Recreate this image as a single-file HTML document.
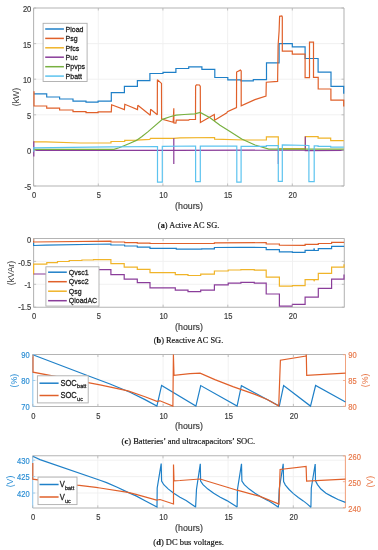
<!DOCTYPE html>
<html><head><meta charset="utf-8"><title>Figure</title>
<style>
html,body{margin:0;padding:0;background:#fff;}
body{width:378px;height:550px;overflow:hidden;}
svg{display:block;filter:blur(0.4px);}
</style></head>
<body>
<svg width="378" height="550" viewBox="0 0 378 550">
<rect width="378" height="550" fill="#fff"/>
<line x1="98.3" y1="8.0" x2="98.3" y2="186.0" stroke="#efefef" stroke-width="0.9"/>
<line x1="162.9" y1="8.0" x2="162.9" y2="186.0" stroke="#efefef" stroke-width="0.9"/>
<line x1="227.6" y1="8.0" x2="227.6" y2="186.0" stroke="#efefef" stroke-width="0.9"/>
<line x1="292.3" y1="8.0" x2="292.3" y2="186.0" stroke="#efefef" stroke-width="0.9"/>
<line x1="33.6" y1="43.6" x2="344.0" y2="43.6" stroke="#efefef" stroke-width="0.9"/>
<line x1="33.6" y1="79.2" x2="344.0" y2="79.2" stroke="#efefef" stroke-width="0.9"/>
<line x1="33.6" y1="114.8" x2="344.0" y2="114.8" stroke="#efefef" stroke-width="0.9"/>
<line x1="33.6" y1="150.4" x2="344.0" y2="150.4" stroke="#efefef" stroke-width="0.9"/>
<line x1="33.6" y1="8.0" x2="344.0" y2="8.0" stroke="#b4b4b4" stroke-width="1.05"/>
<line x1="33.6" y1="186.0" x2="344.0" y2="186.0" stroke="#b4b4b4" stroke-width="1.05"/>
<line x1="33.6" y1="8.0" x2="33.6" y2="186.0" stroke="#b4b4b4" stroke-width="1.05"/>
<line x1="344.0" y1="8.0" x2="344.0" y2="186.0" stroke="#b4b4b4" stroke-width="1.05"/>
<polyline points="34.0,93.9 46.7,93.9 46.7,97.0 59.6,97.0 59.6,99.0 73.0,99.0 73.0,101.2 86.0,101.2 86.0,102.2 98.1,102.2 98.1,101.1 111.3,101.1 111.3,92.7 124.4,92.7 124.4,86.3 137.4,86.3 137.4,80.7 149.9,80.7 149.9,73.5 163.0,73.5 163.0,72.3 175.9,72.3 175.9,68.5 188.7,68.5 188.7,66.9 201.9,66.9 201.9,69.3 214.8,69.3 214.8,77.5 227.8,77.5 227.8,79.9 241.0,79.9 241.0,80.8 253.3,80.8 253.3,79.6 266.5,79.6 266.5,62.8 279.1,62.8 279.1,43.7 292.3,43.7 292.3,46.9 305.1,46.9 305.1,58.5 318.1,58.5 318.1,72.2 331.0,72.2 331.0,86.3 343.7,86.3 343.7,93.8" fill="none" stroke="#1f80c8" stroke-width="1.2" stroke-linejoin="miter" stroke-miterlimit="2" />
<polyline points="34.0,91.2 34.0,106.0 46.7,106.0 46.7,108.2 59.6,108.1 59.6,110.0 73.0,110.0 73.0,111.7 86.0,111.7 86.0,112.6 98.1,112.6 98.1,111.8 111.3,111.8 111.6,104.8 124.4,109.6 124.8,104.3 137.5,109.6 137.8,105.2 150.3,115.2 150.6,109.3 157.3,114.7 157.4,79.7 161.5,83.4 161.6,119.0 173.2,122.3 173.8,108.2 173.9,123.0 175.9,123.2 176.3,120.2 188.8,120.2 189.3,119.5 195.5,119.5 195.6,86.0 196.5,84.8 199.5,85.0 200.3,86.5 200.4,122.4 214.3,114.6 214.6,120.2 226.9,112.7 227.4,111.8 236.5,107.5 236.6,72.0 240.4,70.1 241.2,71.0 241.2,105.8 254.9,99.6 266.0,96.1 266.3,82.2 277.6,81.4 278.1,45.5 279.1,31.0 279.6,16.3 281.8,16.0 282.3,17.0 282.3,51.1 292.3,51.1 292.3,54.2 305.1,54.2 305.1,77.6 309.5,77.6 309.5,42.2 313.5,42.2 313.5,77.4 318.2,77.4 318.2,89.0 330.9,89.0 330.9,100.2 343.7,100.2 343.7,106.5" fill="none" stroke="#e0602a" stroke-width="1.2" stroke-linejoin="miter" stroke-miterlimit="2" />
<polyline points="33.6,141.8 46.0,141.9 80.0,143.0 111.0,143.0 111.0,141.5 124.7,141.5 124.7,140.3 136.4,140.2 149.8,139.3 150.5,138.4 173.7,138.3 180.0,137.9 214.6,137.5 214.6,139.2 245.0,140.0 266.4,140.0 266.4,136.9 278.3,136.9 278.3,148.6 305.3,148.6 305.3,136.6 318.1,136.6 318.1,138.2 330.7,138.2 330.7,140.6 343.8,140.6" fill="none" stroke="#f0b429" stroke-width="1.2" stroke-linejoin="miter" stroke-miterlimit="2" />
<polyline points="33.8,141.2 33.8,156.5 33.8,150.3 173.8,150.3 173.8,138.3 173.8,164.0 173.8,150.3 278.3,150.2 278.3,164.0 278.3,150.2 305.3,150.2 305.3,136.6 305.3,150.6 343.8,150.3" fill="none" stroke="#8a3d9a" stroke-width="1.2" stroke-linejoin="miter" stroke-miterlimit="2" />
<polyline points="33.6,149.3 114.0,149.4 119.0,147.8 124.0,145.7 130.0,143.2 136.4,140.4 142.0,136.5 148.1,131.6 162.4,119.4 170.0,116.7 176.0,115.1 184.0,114.5 194.8,113.8 200.2,112.4 210.0,117.8 220.0,125.2 230.0,131.5 241.7,139.0 255.0,145.0 268.8,149.1 343.8,149.2" fill="none" stroke="#78b040" stroke-width="1.2" stroke-linejoin="miter" stroke-miterlimit="2" />
<polyline points="33.8,146.9 33.8,151.7 33.8,147.8 110.0,146.9 157.5,146.5 157.5,182.1 162.3,182.1 162.3,146.3 195.6,146.0 195.6,181.6 200.3,181.6 200.3,146.2 236.8,146.2 236.8,182.1 241.1,182.1 241.1,146.3 266.4,146.4 266.4,145.6 278.3,145.6 278.3,181.3 282.3,181.3 282.3,144.9 308.9,145.5 308.9,181.6 314.2,181.6 314.2,145.9 318.1,145.9 318.1,146.3 330.7,146.3 330.7,147.2 343.8,147.2" fill="none" stroke="#5cc3ef" stroke-width="1.2" stroke-linejoin="miter" stroke-miterlimit="2" />
<line x1="33.6" y1="8.0" x2="36.1" y2="8.0" stroke="#b4b4b4" stroke-width="0.8"/>
<line x1="344.0" y1="8.0" x2="341.5" y2="8.0" stroke="#b4b4b4" stroke-width="0.8"/>
<text transform="translate(31.3 11.9) scale(0.92 1)" font-family="Liberation Sans" font-size="8.2" fill="#3c3c3c" stroke="#3c3c3c" stroke-width="0.18" text-anchor="end" >20</text>
<line x1="33.6" y1="43.6" x2="36.1" y2="43.6" stroke="#b4b4b4" stroke-width="0.8"/>
<line x1="344.0" y1="43.6" x2="341.5" y2="43.6" stroke="#b4b4b4" stroke-width="0.8"/>
<text transform="translate(31.3 47.5) scale(0.92 1)" font-family="Liberation Sans" font-size="8.2" fill="#3c3c3c" stroke="#3c3c3c" stroke-width="0.18" text-anchor="end" >15</text>
<line x1="33.6" y1="79.2" x2="36.1" y2="79.2" stroke="#b4b4b4" stroke-width="0.8"/>
<line x1="344.0" y1="79.2" x2="341.5" y2="79.2" stroke="#b4b4b4" stroke-width="0.8"/>
<text transform="translate(31.3 83.1) scale(0.92 1)" font-family="Liberation Sans" font-size="8.2" fill="#3c3c3c" stroke="#3c3c3c" stroke-width="0.18" text-anchor="end" >10</text>
<line x1="33.6" y1="114.8" x2="36.1" y2="114.8" stroke="#b4b4b4" stroke-width="0.8"/>
<line x1="344.0" y1="114.8" x2="341.5" y2="114.8" stroke="#b4b4b4" stroke-width="0.8"/>
<text transform="translate(31.3 118.7) scale(0.92 1)" font-family="Liberation Sans" font-size="8.2" fill="#3c3c3c" stroke="#3c3c3c" stroke-width="0.18" text-anchor="end" >5</text>
<line x1="33.6" y1="150.4" x2="36.1" y2="150.4" stroke="#b4b4b4" stroke-width="0.8"/>
<line x1="344.0" y1="150.4" x2="341.5" y2="150.4" stroke="#b4b4b4" stroke-width="0.8"/>
<text transform="translate(31.3 154.3) scale(0.92 1)" font-family="Liberation Sans" font-size="8.2" fill="#3c3c3c" stroke="#3c3c3c" stroke-width="0.18" text-anchor="end" >0</text>
<line x1="33.6" y1="186.0" x2="36.1" y2="186.0" stroke="#b4b4b4" stroke-width="0.8"/>
<line x1="344.0" y1="186.0" x2="341.5" y2="186.0" stroke="#b4b4b4" stroke-width="0.8"/>
<text transform="translate(31.3 189.9) scale(0.92 1)" font-family="Liberation Sans" font-size="8.2" fill="#3c3c3c" stroke="#3c3c3c" stroke-width="0.18" text-anchor="end" >-5</text>
<line x1="33.6" y1="186.0" x2="33.6" y2="183.5" stroke="#b4b4b4" stroke-width="0.8"/>
<line x1="33.6" y1="8.0" x2="33.6" y2="10.5" stroke="#b4b4b4" stroke-width="0.8"/>
<text transform="translate(34.1 198.15) scale(0.92 1)" font-family="Liberation Sans" font-size="8.2" fill="#3c3c3c" stroke="#3c3c3c" stroke-width="0.18" text-anchor="middle" >0</text>
<line x1="98.3" y1="186.0" x2="98.3" y2="183.5" stroke="#b4b4b4" stroke-width="0.8"/>
<line x1="98.3" y1="8.0" x2="98.3" y2="10.5" stroke="#b4b4b4" stroke-width="0.8"/>
<text transform="translate(98.8 198.15) scale(0.92 1)" font-family="Liberation Sans" font-size="8.2" fill="#3c3c3c" stroke="#3c3c3c" stroke-width="0.18" text-anchor="middle" >5</text>
<line x1="162.9" y1="186.0" x2="162.9" y2="183.5" stroke="#b4b4b4" stroke-width="0.8"/>
<line x1="162.9" y1="8.0" x2="162.9" y2="10.5" stroke="#b4b4b4" stroke-width="0.8"/>
<text transform="translate(163.4 198.15) scale(0.92 1)" font-family="Liberation Sans" font-size="8.2" fill="#3c3c3c" stroke="#3c3c3c" stroke-width="0.18" text-anchor="middle" >10</text>
<line x1="227.6" y1="186.0" x2="227.6" y2="183.5" stroke="#b4b4b4" stroke-width="0.8"/>
<line x1="227.6" y1="8.0" x2="227.6" y2="10.5" stroke="#b4b4b4" stroke-width="0.8"/>
<text transform="translate(228.1 198.15) scale(0.92 1)" font-family="Liberation Sans" font-size="8.2" fill="#3c3c3c" stroke="#3c3c3c" stroke-width="0.18" text-anchor="middle" >15</text>
<line x1="292.3" y1="186.0" x2="292.3" y2="183.5" stroke="#b4b4b4" stroke-width="0.8"/>
<line x1="292.3" y1="8.0" x2="292.3" y2="10.5" stroke="#b4b4b4" stroke-width="0.8"/>
<text transform="translate(292.8 198.15) scale(0.92 1)" font-family="Liberation Sans" font-size="8.2" fill="#3c3c3c" stroke="#3c3c3c" stroke-width="0.18" text-anchor="middle" >20</text>
<text transform="translate(189 208.9) scale(1.0 1)" font-family="Liberation Sans" font-size="8.8" fill="#3c3c3c" stroke="#3c3c3c" stroke-width="0.18" text-anchor="middle" >(hours)</text>
<text transform="translate(16.2 97) rotate(-90) translate(0 3.17)" font-family="Liberation Sans" font-size="8.8" fill="#3c3c3c" text-anchor="middle">(kW)</text>
<rect x="43.1" y="23.3" width="43.99999999999999" height="58.2" fill="#fff" stroke="#adadad" stroke-width="0.9"/>
<line x1="45.2" y1="29.0" x2="63.9" y2="29.0" stroke="#1f80c8" stroke-width="1.5"/>
<text transform="translate(65.6 31.7) scale(0.92 1)" font-family="Liberation Sans" font-size="7.6" fill="#1a1a1a" stroke="#1a1a1a" stroke-width="0.25">Pload</text>
<line x1="45.2" y1="38.4" x2="63.9" y2="38.4" stroke="#e0602a" stroke-width="1.5"/>
<text transform="translate(65.6 41.1) scale(0.92 1)" font-family="Liberation Sans" font-size="7.6" fill="#1a1a1a" stroke="#1a1a1a" stroke-width="0.25">Psg</text>
<line x1="45.2" y1="47.8" x2="63.9" y2="47.8" stroke="#f0b429" stroke-width="1.5"/>
<text transform="translate(65.6 50.5) scale(0.92 1)" font-family="Liberation Sans" font-size="7.6" fill="#1a1a1a" stroke="#1a1a1a" stroke-width="0.25">Pfcs</text>
<line x1="45.2" y1="57.2" x2="63.9" y2="57.2" stroke="#8a3d9a" stroke-width="1.5"/>
<text transform="translate(65.6 59.900000000000006) scale(0.92 1)" font-family="Liberation Sans" font-size="7.6" fill="#1a1a1a" stroke="#1a1a1a" stroke-width="0.25">Puc</text>
<line x1="45.2" y1="66.7" x2="63.9" y2="66.7" stroke="#78b040" stroke-width="1.5"/>
<text transform="translate(65.6 69.4) scale(0.92 1)" font-family="Liberation Sans" font-size="7.6" fill="#1a1a1a" stroke="#1a1a1a" stroke-width="0.25">Ppvps</text>
<line x1="45.2" y1="76.1" x2="63.9" y2="76.1" stroke="#5cc3ef" stroke-width="1.5"/>
<text transform="translate(65.6 78.8) scale(0.92 1)" font-family="Liberation Sans" font-size="7.6" fill="#1a1a1a" stroke="#1a1a1a" stroke-width="0.25">Pbatt</text>
<text x="188.6" y="227.8" textLength="61.5" lengthAdjust="spacingAndGlyphs" font-family="Liberation Serif" font-size="8.5" fill="#111" stroke="#111" stroke-width="0.15" text-anchor="middle">(<tspan font-weight="bold">a</tspan>) Active AC SG.</text>
<line x1="98.3" y1="238.5" x2="98.3" y2="307.2" stroke="#efefef" stroke-width="0.9"/>
<line x1="163.1" y1="238.5" x2="163.1" y2="307.2" stroke="#efefef" stroke-width="0.9"/>
<line x1="227.8" y1="238.5" x2="227.8" y2="307.2" stroke="#efefef" stroke-width="0.9"/>
<line x1="292.5" y1="238.5" x2="292.5" y2="307.2" stroke="#efefef" stroke-width="0.9"/>
<line x1="33.6" y1="261.4" x2="344.3" y2="261.4" stroke="#efefef" stroke-width="0.9"/>
<line x1="33.6" y1="284.3" x2="344.3" y2="284.3" stroke="#efefef" stroke-width="0.9"/>
<line x1="33.6" y1="238.5" x2="344.3" y2="238.5" stroke="#b4b4b4" stroke-width="1.05"/>
<line x1="33.6" y1="307.2" x2="344.3" y2="307.2" stroke="#b4b4b4" stroke-width="1.05"/>
<line x1="33.6" y1="238.5" x2="33.6" y2="307.2" stroke="#b4b4b4" stroke-width="1.05"/>
<line x1="344.3" y1="238.5" x2="344.3" y2="307.2" stroke="#b4b4b4" stroke-width="1.05"/>
<polyline points="33.6,242.5 33.6,245.5 45.9,245.2 110.9,244.0 110.9,245.0 124.6,245.0 124.6,246.0 137.3,246.0 137.3,247.1 150.0,247.1 150.0,248.4 176.3,248.4 176.3,249.2 201.7,249.2 201.7,248.8 214.4,248.8 214.4,247.5 240.0,247.4 266.2,247.5 266.2,249.6 279.4,249.6 279.4,251.9 292.4,251.9 292.4,252.3 305.1,252.3 305.1,250.3 313.9,250.3 314.1,248.4 314.5,250.4 318.3,250.5 318.3,248.6 331.6,248.6 331.6,246.4 344.1,246.4" fill="none" stroke="#1f80c8" stroke-width="1.2" stroke-linejoin="miter" stroke-miterlimit="2" />
<polyline points="33.6,238.8 33.6,242.0 110.9,241.2 110.9,242.0 124.6,242.0 124.6,242.7 137.3,242.7 137.3,243.1 150.0,243.1 150.0,243.5 214.4,243.5 214.4,242.8 266.2,242.7 266.2,244.0 279.4,244.0 279.4,245.1 305.1,245.3 305.1,244.3 318.3,244.3 318.3,243.5 331.6,243.5 331.6,242.3 344.1,242.3" fill="none" stroke="#e0602a" stroke-width="1.2" stroke-linejoin="miter" stroke-miterlimit="2" />
<polyline points="33.6,274.4 33.6,264.1 46.8,264.1 46.8,262.6 57.5,262.6 57.5,261.5 69.2,261.5 69.2,260.5 81.9,260.5 81.9,260.0 93.5,260.0 93.5,259.6 110.9,259.6 110.9,263.6 124.2,263.6 124.2,267.2 137.3,267.2 137.3,269.3 150.0,269.3 150.0,272.7 175.3,272.7 175.3,274.6 188.0,274.6 188.0,275.5 200.7,275.5 200.7,274.2 214.4,274.2 214.4,271.0 228.2,271.0 228.2,270.0 240.9,270.0 240.9,269.7 254.3,269.7 254.3,270.2 266.2,270.2 266.2,277.2 279.4,277.2 279.4,286.1 292.4,286.1 292.4,285.6 305.1,285.6 305.1,279.7 313.9,279.7 314.1,281.3 314.5,279.7 318.3,279.7 318.3,273.4 331.6,273.4 331.6,267.2 344.0,267.2 344.0,264.3" fill="none" stroke="#f0b429" stroke-width="1.2" stroke-linejoin="miter" stroke-miterlimit="2" />
<polyline points="33.6,274.0 45.9,274.0 72.0,272.0 98.8,269.7 110.9,269.7 110.9,274.6 124.2,274.6 124.2,279.1 137.3,279.1 137.3,282.7 150.0,282.7 150.0,287.8 175.3,287.8 175.3,290.1 188.0,290.1 188.0,291.6 200.7,291.6 200.7,290.1 214.4,290.1 214.4,284.8 228.2,284.8 228.2,283.1 240.9,283.1 240.9,282.4 254.3,282.4 254.3,283.2 266.2,283.2 266.2,294.0 279.4,294.0 279.4,306.2 292.4,306.2 292.4,304.4 305.1,304.4 305.1,297.2 318.3,297.2 318.3,288.3 331.6,288.3 331.6,279.1 344.0,279.1 344.0,274.4" fill="none" stroke="#8a3d9a" stroke-width="1.2" stroke-linejoin="miter" stroke-miterlimit="2" />
<line x1="33.6" y1="238.5" x2="36.1" y2="238.5" stroke="#b4b4b4" stroke-width="0.8"/>
<line x1="344.3" y1="238.5" x2="341.8" y2="238.5" stroke="#b4b4b4" stroke-width="0.8"/>
<text transform="translate(31.3 242.6) scale(0.92 1)" font-family="Liberation Sans" font-size="8.2" fill="#3c3c3c" stroke="#3c3c3c" stroke-width="0.18" text-anchor="end" >0</text>
<line x1="33.6" y1="261.4" x2="36.1" y2="261.4" stroke="#b4b4b4" stroke-width="0.8"/>
<line x1="344.3" y1="261.4" x2="341.8" y2="261.4" stroke="#b4b4b4" stroke-width="0.8"/>
<text transform="translate(31.3 265.8) scale(0.92 1)" font-family="Liberation Sans" font-size="8.2" fill="#3c3c3c" stroke="#3c3c3c" stroke-width="0.18" text-anchor="end" >-0.5</text>
<line x1="33.6" y1="284.3" x2="36.1" y2="284.3" stroke="#b4b4b4" stroke-width="0.8"/>
<line x1="344.3" y1="284.3" x2="341.8" y2="284.3" stroke="#b4b4b4" stroke-width="0.8"/>
<text transform="translate(31.3 288.0) scale(0.92 1)" font-family="Liberation Sans" font-size="8.2" fill="#3c3c3c" stroke="#3c3c3c" stroke-width="0.18" text-anchor="end" >-1</text>
<line x1="33.6" y1="307.2" x2="36.1" y2="307.2" stroke="#b4b4b4" stroke-width="0.8"/>
<line x1="344.3" y1="307.2" x2="341.8" y2="307.2" stroke="#b4b4b4" stroke-width="0.8"/>
<text transform="translate(31.3 310.2) scale(0.92 1)" font-family="Liberation Sans" font-size="8.2" fill="#3c3c3c" stroke="#3c3c3c" stroke-width="0.18" text-anchor="end" >-1.5</text>
<line x1="33.6" y1="307.2" x2="33.6" y2="304.7" stroke="#b4b4b4" stroke-width="0.8"/>
<line x1="33.6" y1="238.5" x2="33.6" y2="241.0" stroke="#b4b4b4" stroke-width="0.8"/>
<text transform="translate(34.1 319.34999999999997) scale(0.92 1)" font-family="Liberation Sans" font-size="8.2" fill="#3c3c3c" stroke="#3c3c3c" stroke-width="0.18" text-anchor="middle" >0</text>
<line x1="98.3" y1="307.2" x2="98.3" y2="304.7" stroke="#b4b4b4" stroke-width="0.8"/>
<line x1="98.3" y1="238.5" x2="98.3" y2="241.0" stroke="#b4b4b4" stroke-width="0.8"/>
<text transform="translate(98.8 319.34999999999997) scale(0.92 1)" font-family="Liberation Sans" font-size="8.2" fill="#3c3c3c" stroke="#3c3c3c" stroke-width="0.18" text-anchor="middle" >5</text>
<line x1="163.1" y1="307.2" x2="163.1" y2="304.7" stroke="#b4b4b4" stroke-width="0.8"/>
<line x1="163.1" y1="238.5" x2="163.1" y2="241.0" stroke="#b4b4b4" stroke-width="0.8"/>
<text transform="translate(163.6 319.34999999999997) scale(0.92 1)" font-family="Liberation Sans" font-size="8.2" fill="#3c3c3c" stroke="#3c3c3c" stroke-width="0.18" text-anchor="middle" >10</text>
<line x1="227.8" y1="307.2" x2="227.8" y2="304.7" stroke="#b4b4b4" stroke-width="0.8"/>
<line x1="227.8" y1="238.5" x2="227.8" y2="241.0" stroke="#b4b4b4" stroke-width="0.8"/>
<text transform="translate(228.3 319.34999999999997) scale(0.92 1)" font-family="Liberation Sans" font-size="8.2" fill="#3c3c3c" stroke="#3c3c3c" stroke-width="0.18" text-anchor="middle" >15</text>
<line x1="292.5" y1="307.2" x2="292.5" y2="304.7" stroke="#b4b4b4" stroke-width="0.8"/>
<line x1="292.5" y1="238.5" x2="292.5" y2="241.0" stroke="#b4b4b4" stroke-width="0.8"/>
<text transform="translate(293.0 319.34999999999997) scale(0.92 1)" font-family="Liberation Sans" font-size="8.2" fill="#3c3c3c" stroke="#3c3c3c" stroke-width="0.18" text-anchor="middle" >20</text>
<text transform="translate(189 330.09999999999997) scale(1.0 1)" font-family="Liberation Sans" font-size="8.8" fill="#3c3c3c" stroke="#3c3c3c" stroke-width="0.18" text-anchor="middle" >(hours)</text>
<text transform="translate(11 273) rotate(-90) translate(0 3.17)" font-family="Liberation Sans" font-size="8.8" fill="#3c3c3c" text-anchor="middle">(kVAr)</text>
<rect x="45.9" y="266.8" width="53.1" height="39.30000000000001" fill="#fff" stroke="#adadad" stroke-width="0.9"/>
<line x1="48.1" y1="272.2" x2="66.8" y2="272.2" stroke="#1f80c8" stroke-width="1.5"/>
<text transform="translate(68.8 274.9) scale(0.92 1)" font-family="Liberation Sans" font-size="7.6" fill="#1a1a1a" stroke="#1a1a1a" stroke-width="0.25">Qvsc1</text>
<line x1="48.1" y1="281.7" x2="66.8" y2="281.7" stroke="#e0602a" stroke-width="1.5"/>
<text transform="translate(68.8 284.4) scale(0.92 1)" font-family="Liberation Sans" font-size="7.6" fill="#1a1a1a" stroke="#1a1a1a" stroke-width="0.25">Qvsc2</text>
<line x1="48.1" y1="291.2" x2="66.8" y2="291.2" stroke="#f0b429" stroke-width="1.5"/>
<text transform="translate(68.8 293.9) scale(0.92 1)" font-family="Liberation Sans" font-size="7.6" fill="#1a1a1a" stroke="#1a1a1a" stroke-width="0.25">Qsg</text>
<line x1="48.1" y1="300.7" x2="66.8" y2="300.7" stroke="#8a3d9a" stroke-width="1.5"/>
<text transform="translate(68.8 303.4) scale(0.92 1)" font-family="Liberation Sans" font-size="7.6" fill="#1a1a1a" stroke="#1a1a1a" stroke-width="0.25">QloadAC</text>
<text x="188.5" y="342.8" textLength="69.5" lengthAdjust="spacingAndGlyphs" font-family="Liberation Serif" font-size="8.5" fill="#111" stroke="#111" stroke-width="0.15" text-anchor="middle">(<tspan font-weight="bold">b</tspan>) Reactive AC SG.</text>
<line x1="97.9" y1="354.5" x2="97.9" y2="406.4" stroke="#efefef" stroke-width="0.9"/>
<line x1="163.1" y1="354.5" x2="163.1" y2="406.4" stroke="#efefef" stroke-width="0.9"/>
<line x1="228.2" y1="354.5" x2="228.2" y2="406.4" stroke="#efefef" stroke-width="0.9"/>
<line x1="293.4" y1="354.5" x2="293.4" y2="406.4" stroke="#efefef" stroke-width="0.9"/>
<line x1="32.8" y1="380.4" x2="345.5" y2="380.4" stroke="#efefef" stroke-width="0.9"/>
<line x1="32.8" y1="354.5" x2="345.5" y2="354.5" stroke="#b4b4b4" stroke-width="1.05"/>
<line x1="32.8" y1="406.4" x2="345.5" y2="406.4" stroke="#b4b4b4" stroke-width="1.05"/>
<line x1="32.8" y1="354.5" x2="32.8" y2="406.4" stroke="#8cc4ec" stroke-width="1.05"/>
<line x1="345.5" y1="354.5" x2="345.5" y2="406.4" stroke="#f1a27e" stroke-width="1.05"/>
<polyline points="32.8,354.7 88.0,375.7 110.0,384.0 130.0,392.2 145.0,399.6 156.9,406.1 161.6,385.4 195.9,406.1 200.7,385.6 237.1,406.1 241.4,385.6 279.3,406.1 283.6,385.6 310.5,406.1 315.6,385.5 345.5,402.0" fill="none" stroke="#1f80c8" stroke-width="1.2" stroke-linejoin="miter" stroke-miterlimit="2" />
<polyline points="33.0,354.7 33.0,372.2 88.0,382.7 100.0,384.8 128.0,390.9 145.0,396.7 156.9,401.3 159.9,400.8 172.9,406.1 173.4,354.5 174.0,375.3 190.0,373.6 200.1,373.1 214.9,379.6 232.9,386.6 255.0,394.4 267.7,399.7 278.7,406.1 280.4,360.2 306.0,356.0 306.3,354.6 306.7,375.4 345.5,373.1" fill="none" stroke="#e0602a" stroke-width="1.2" stroke-linejoin="miter" stroke-miterlimit="2" />
<line x1="32.8" y1="354.7" x2="35.3" y2="354.7" stroke="#8cc4ec" stroke-width="0.8"/>
<text transform="translate(29.6 358.2) scale(0.92 1)" font-family="Liberation Sans" font-size="8.2" fill="#2d8fd5" stroke="#2d8fd5" stroke-width="0.18" text-anchor="end" >90</text>
<line x1="32.8" y1="380.5" x2="35.3" y2="380.5" stroke="#8cc4ec" stroke-width="0.8"/>
<text transform="translate(29.6 384.0) scale(0.92 1)" font-family="Liberation Sans" font-size="8.2" fill="#2d8fd5" stroke="#2d8fd5" stroke-width="0.18" text-anchor="end" >80</text>
<line x1="32.8" y1="406.3" x2="35.3" y2="406.3" stroke="#8cc4ec" stroke-width="0.8"/>
<text transform="translate(29.6 409.8) scale(0.92 1)" font-family="Liberation Sans" font-size="8.2" fill="#2d8fd5" stroke="#2d8fd5" stroke-width="0.18" text-anchor="end" >70</text>
<line x1="345.5" y1="354.7" x2="343.0" y2="354.7" stroke="#f1a27e" stroke-width="0.8"/>
<text transform="translate(348.3 358.0) scale(0.92 1)" font-family="Liberation Sans" font-size="8.2" fill="#e8794a" stroke="#e8794a" stroke-width="0.18" text-anchor="start" >90</text>
<line x1="345.5" y1="380.5" x2="343.0" y2="380.5" stroke="#f1a27e" stroke-width="0.8"/>
<text transform="translate(348.3 383.9) scale(0.92 1)" font-family="Liberation Sans" font-size="8.2" fill="#e8794a" stroke="#e8794a" stroke-width="0.18" text-anchor="start" >85</text>
<line x1="345.5" y1="406.3" x2="343.0" y2="406.3" stroke="#f1a27e" stroke-width="0.8"/>
<text transform="translate(348.3 410.1) scale(0.92 1)" font-family="Liberation Sans" font-size="8.2" fill="#e8794a" stroke="#e8794a" stroke-width="0.18" text-anchor="start" >80</text>
<line x1="32.8" y1="406.4" x2="32.8" y2="403.9" stroke="#b4b4b4" stroke-width="0.8"/>
<line x1="32.8" y1="354.5" x2="32.8" y2="357.0" stroke="#b4b4b4" stroke-width="0.8"/>
<text transform="translate(33.3 418.54999999999995) scale(0.92 1)" font-family="Liberation Sans" font-size="8.2" fill="#3c3c3c" stroke="#3c3c3c" stroke-width="0.18" text-anchor="middle" >0</text>
<line x1="97.9" y1="406.4" x2="97.9" y2="403.9" stroke="#b4b4b4" stroke-width="0.8"/>
<line x1="97.9" y1="354.5" x2="97.9" y2="357.0" stroke="#b4b4b4" stroke-width="0.8"/>
<text transform="translate(98.4 418.54999999999995) scale(0.92 1)" font-family="Liberation Sans" font-size="8.2" fill="#3c3c3c" stroke="#3c3c3c" stroke-width="0.18" text-anchor="middle" >5</text>
<line x1="163.1" y1="406.4" x2="163.1" y2="403.9" stroke="#b4b4b4" stroke-width="0.8"/>
<line x1="163.1" y1="354.5" x2="163.1" y2="357.0" stroke="#b4b4b4" stroke-width="0.8"/>
<text transform="translate(163.6 418.54999999999995) scale(0.92 1)" font-family="Liberation Sans" font-size="8.2" fill="#3c3c3c" stroke="#3c3c3c" stroke-width="0.18" text-anchor="middle" >10</text>
<line x1="228.2" y1="406.4" x2="228.2" y2="403.9" stroke="#b4b4b4" stroke-width="0.8"/>
<line x1="228.2" y1="354.5" x2="228.2" y2="357.0" stroke="#b4b4b4" stroke-width="0.8"/>
<text transform="translate(228.7 418.54999999999995) scale(0.92 1)" font-family="Liberation Sans" font-size="8.2" fill="#3c3c3c" stroke="#3c3c3c" stroke-width="0.18" text-anchor="middle" >15</text>
<line x1="293.4" y1="406.4" x2="293.4" y2="403.9" stroke="#b4b4b4" stroke-width="0.8"/>
<line x1="293.4" y1="354.5" x2="293.4" y2="357.0" stroke="#b4b4b4" stroke-width="0.8"/>
<text transform="translate(293.9 418.54999999999995) scale(0.92 1)" font-family="Liberation Sans" font-size="8.2" fill="#3c3c3c" stroke="#3c3c3c" stroke-width="0.18" text-anchor="middle" >20</text>
<text transform="translate(189 429.29999999999995) scale(1.0 1)" font-family="Liberation Sans" font-size="8.8" fill="#3c3c3c" stroke="#3c3c3c" stroke-width="0.18" text-anchor="middle" >(hours)</text>
<text transform="translate(14 380.6) rotate(-90) translate(0 3.17)" font-family="Liberation Sans" font-size="8.8" fill="#2d8fd5" text-anchor="middle">(%)</text>
<text transform="translate(364.8 380.4) rotate(-90) translate(0 3.17)" font-family="Liberation Sans" font-size="8.8" fill="#e8794a" text-anchor="middle">(%)</text>
<rect x="37.4" y="375.8" width="50.8" height="27.1" fill="#fff" stroke="#adadad" stroke-width="0.9"/>
<line x1="39.5" y1="383.2" x2="58.6" y2="383.2" stroke="#1f80c8" stroke-width="1.5"/>
<line x1="39.5" y1="395.5" x2="58.6" y2="395.5" stroke="#e0602a" stroke-width="1.5"/>
<text transform="translate(60.5 385.6) scale(0.92 1)" font-family="Liberation Sans" font-size="8.2" fill="#1a1a1a" stroke="#1a1a1a" stroke-width="0.25">SOC<tspan font-size="6.0" dy="2.6" dx="0.3">batt</tspan></text>
<text transform="translate(60.5 398.2) scale(0.92 1)" font-family="Liberation Sans" font-size="8.2" fill="#1a1a1a" stroke="#1a1a1a" stroke-width="0.25">SOC<tspan font-size="6.0" dy="2.6" dx="0.3">uc</tspan></text>
<text x="188.3" y="444.0" textLength="133.5" lengthAdjust="spacingAndGlyphs" font-family="Liberation Serif" font-size="8.5" fill="#111" stroke="#111" stroke-width="0.15" text-anchor="middle">(<tspan font-weight="bold">c</tspan>) Batteries&#8217; and ultracapacitors&#8217; SOC.</text>
<line x1="97.8" y1="455.8" x2="97.8" y2="507.9" stroke="#efefef" stroke-width="0.9"/>
<line x1="163.0" y1="455.8" x2="163.0" y2="507.9" stroke="#efefef" stroke-width="0.9"/>
<line x1="228.1" y1="455.8" x2="228.1" y2="507.9" stroke="#efefef" stroke-width="0.9"/>
<line x1="293.3" y1="455.8" x2="293.3" y2="507.9" stroke="#efefef" stroke-width="0.9"/>
<line x1="32.7" y1="460.2" x2="345.4" y2="460.2" stroke="#efefef" stroke-width="0.9"/>
<line x1="32.7" y1="476.6" x2="345.4" y2="476.6" stroke="#efefef" stroke-width="0.9"/>
<line x1="32.7" y1="493.0" x2="345.4" y2="493.0" stroke="#efefef" stroke-width="0.9"/>
<line x1="32.7" y1="455.8" x2="345.4" y2="455.8" stroke="#b4b4b4" stroke-width="1.05"/>
<line x1="32.7" y1="507.9" x2="345.4" y2="507.9" stroke="#b4b4b4" stroke-width="1.05"/>
<line x1="32.7" y1="455.8" x2="32.7" y2="507.9" stroke="#8cc4ec" stroke-width="1.05"/>
<line x1="345.4" y1="455.8" x2="345.4" y2="507.9" stroke="#f1a27e" stroke-width="1.05"/>
<polyline points="32.7,456.2 40.0,459.6 100.0,480.2 106.6,482.6 117.2,487.3 128.0,492.4 136.0,495.9 146.0,501.2 157.0,507.1 157.2,488.0 161.2,463.6 161.6,481.0 163.8,484.7 168.4,489.1 173.8,493.3 180.0,497.2 186.1,500.6 190.8,503.7 195.6,507.1 196.5,489.2 200.3,463.8 200.6,481.0 203.0,484.7 207.9,489.1 213.7,493.3 220.3,497.2 226.9,500.6 232.0,503.7 237.1,507.1 237.5,489.2 241.5,463.8 241.9,481.0 244.3,484.7 249.2,489.1 255.0,493.3 261.6,497.2 268.2,500.6 273.3,503.8 278.4,507.2 279.2,489.2 283.2,463.8 283.6,481.5 285.4,485.1 289.1,489.5 293.4,493.6 298.3,497.5 303.3,500.9 307.1,503.9 310.9,507.3 311.3,488.0 315.2,464.0 315.5,480.9 317.5,484.6 320.9,489.0 326.0,493.2 331.8,496.4 338.0,499.5 345.4,502.4" fill="none" stroke="#1f80c8" stroke-width="1.2" stroke-linejoin="miter" stroke-miterlimit="2" />
<polyline points="32.8,463.0 32.8,479.2 77.3,485.2 96.0,487.3 100.0,488.0 128.0,492.4 136.0,494.3 156.6,500.2 160.0,499.5 173.5,504.0 173.5,464.5 174.0,480.8 180.0,480.5 200.1,479.0 237.1,490.2 260.0,496.4 279.0,504.0 280.1,469.5 306.1,466.5 306.6,481.2 345.4,479.2" fill="none" stroke="#e0602a" stroke-width="1.2" stroke-linejoin="miter" stroke-miterlimit="2" />
<line x1="32.7" y1="460.2" x2="35.2" y2="460.2" stroke="#8cc4ec" stroke-width="0.8"/>
<text transform="translate(29.6 463.7) scale(0.92 1)" font-family="Liberation Sans" font-size="8.2" fill="#2d8fd5" stroke="#2d8fd5" stroke-width="0.18" text-anchor="end" >430</text>
<line x1="32.7" y1="476.6" x2="35.2" y2="476.6" stroke="#8cc4ec" stroke-width="0.8"/>
<text transform="translate(29.6 480.1) scale(0.92 1)" font-family="Liberation Sans" font-size="8.2" fill="#2d8fd5" stroke="#2d8fd5" stroke-width="0.18" text-anchor="end" >425</text>
<line x1="32.7" y1="493.0" x2="35.2" y2="493.0" stroke="#8cc4ec" stroke-width="0.8"/>
<text transform="translate(29.6 496.5) scale(0.92 1)" font-family="Liberation Sans" font-size="8.2" fill="#2d8fd5" stroke="#2d8fd5" stroke-width="0.18" text-anchor="end" >420</text>
<line x1="345.4" y1="455.9" x2="342.9" y2="455.9" stroke="#f1a27e" stroke-width="0.8"/>
<text transform="translate(348.3 459.5) scale(0.92 1)" font-family="Liberation Sans" font-size="8.2" fill="#e8794a" stroke="#e8794a" stroke-width="0.18" text-anchor="start" >260</text>
<line x1="345.4" y1="481.7" x2="342.9" y2="481.7" stroke="#f1a27e" stroke-width="0.8"/>
<text transform="translate(348.3 485.6) scale(0.92 1)" font-family="Liberation Sans" font-size="8.2" fill="#e8794a" stroke="#e8794a" stroke-width="0.18" text-anchor="start" >250</text>
<line x1="345.4" y1="507.6" x2="342.9" y2="507.6" stroke="#f1a27e" stroke-width="0.8"/>
<text transform="translate(348.3 511.6) scale(0.92 1)" font-family="Liberation Sans" font-size="8.2" fill="#e8794a" stroke="#e8794a" stroke-width="0.18" text-anchor="start" >240</text>
<line x1="32.7" y1="507.9" x2="32.7" y2="505.4" stroke="#b4b4b4" stroke-width="0.8"/>
<line x1="32.7" y1="455.8" x2="32.7" y2="458.3" stroke="#b4b4b4" stroke-width="0.8"/>
<text transform="translate(33.2 520.05) scale(0.92 1)" font-family="Liberation Sans" font-size="8.2" fill="#3c3c3c" stroke="#3c3c3c" stroke-width="0.18" text-anchor="middle" >0</text>
<line x1="97.8" y1="507.9" x2="97.8" y2="505.4" stroke="#b4b4b4" stroke-width="0.8"/>
<line x1="97.8" y1="455.8" x2="97.8" y2="458.3" stroke="#b4b4b4" stroke-width="0.8"/>
<text transform="translate(98.3 520.05) scale(0.92 1)" font-family="Liberation Sans" font-size="8.2" fill="#3c3c3c" stroke="#3c3c3c" stroke-width="0.18" text-anchor="middle" >5</text>
<line x1="163.0" y1="507.9" x2="163.0" y2="505.4" stroke="#b4b4b4" stroke-width="0.8"/>
<line x1="163.0" y1="455.8" x2="163.0" y2="458.3" stroke="#b4b4b4" stroke-width="0.8"/>
<text transform="translate(163.5 520.05) scale(0.92 1)" font-family="Liberation Sans" font-size="8.2" fill="#3c3c3c" stroke="#3c3c3c" stroke-width="0.18" text-anchor="middle" >10</text>
<line x1="228.1" y1="507.9" x2="228.1" y2="505.4" stroke="#b4b4b4" stroke-width="0.8"/>
<line x1="228.1" y1="455.8" x2="228.1" y2="458.3" stroke="#b4b4b4" stroke-width="0.8"/>
<text transform="translate(228.6 520.05) scale(0.92 1)" font-family="Liberation Sans" font-size="8.2" fill="#3c3c3c" stroke="#3c3c3c" stroke-width="0.18" text-anchor="middle" >15</text>
<line x1="293.3" y1="507.9" x2="293.3" y2="505.4" stroke="#b4b4b4" stroke-width="0.8"/>
<line x1="293.3" y1="455.8" x2="293.3" y2="458.3" stroke="#b4b4b4" stroke-width="0.8"/>
<text transform="translate(293.8 520.05) scale(0.92 1)" font-family="Liberation Sans" font-size="8.2" fill="#3c3c3c" stroke="#3c3c3c" stroke-width="0.18" text-anchor="middle" >20</text>
<text transform="translate(189 530.8) scale(1.0 1)" font-family="Liberation Sans" font-size="8.8" fill="#3c3c3c" stroke="#3c3c3c" stroke-width="0.18" text-anchor="middle" >(hours)</text>
<text transform="translate(10.3 481.5) rotate(-90) translate(0 3.17)" font-family="Liberation Sans" font-size="8.8" fill="#2d8fd5" text-anchor="middle">(V)</text>
<text transform="translate(370 481.7) rotate(-90) translate(0 3.17)" font-family="Liberation Sans" font-size="8.8" fill="#e8794a" text-anchor="middle">(V)</text>
<rect x="38.0" y="477.1" width="39.0" height="27.5" fill="#fff" stroke="#adadad" stroke-width="0.9"/>
<line x1="39.5" y1="484.5" x2="58.6" y2="484.5" stroke="#1f80c8" stroke-width="1.5"/>
<line x1="39.5" y1="497.0" x2="58.6" y2="497.0" stroke="#e0602a" stroke-width="1.5"/>
<text transform="translate(59.7 487.0) scale(0.92 1)" font-family="Liberation Sans" font-size="8.2" fill="#1a1a1a" stroke="#1a1a1a" stroke-width="0.25">V<tspan font-size="6.0" dy="2.6" dx="0.3">batt</tspan></text>
<text transform="translate(59.7 499.9) scale(0.92 1)" font-family="Liberation Sans" font-size="8.2" fill="#1a1a1a" stroke="#1a1a1a" stroke-width="0.25">V<tspan font-size="6.0" dy="2.6" dx="0.3">uc</tspan></text>
<text x="188.6" y="544.6" textLength="70.5" lengthAdjust="spacingAndGlyphs" font-family="Liberation Serif" font-size="8.5" fill="#111" stroke="#111" stroke-width="0.15" text-anchor="middle">(<tspan font-weight="bold">d</tspan>) DC bus voltages.</text>
</svg>
</body></html>
